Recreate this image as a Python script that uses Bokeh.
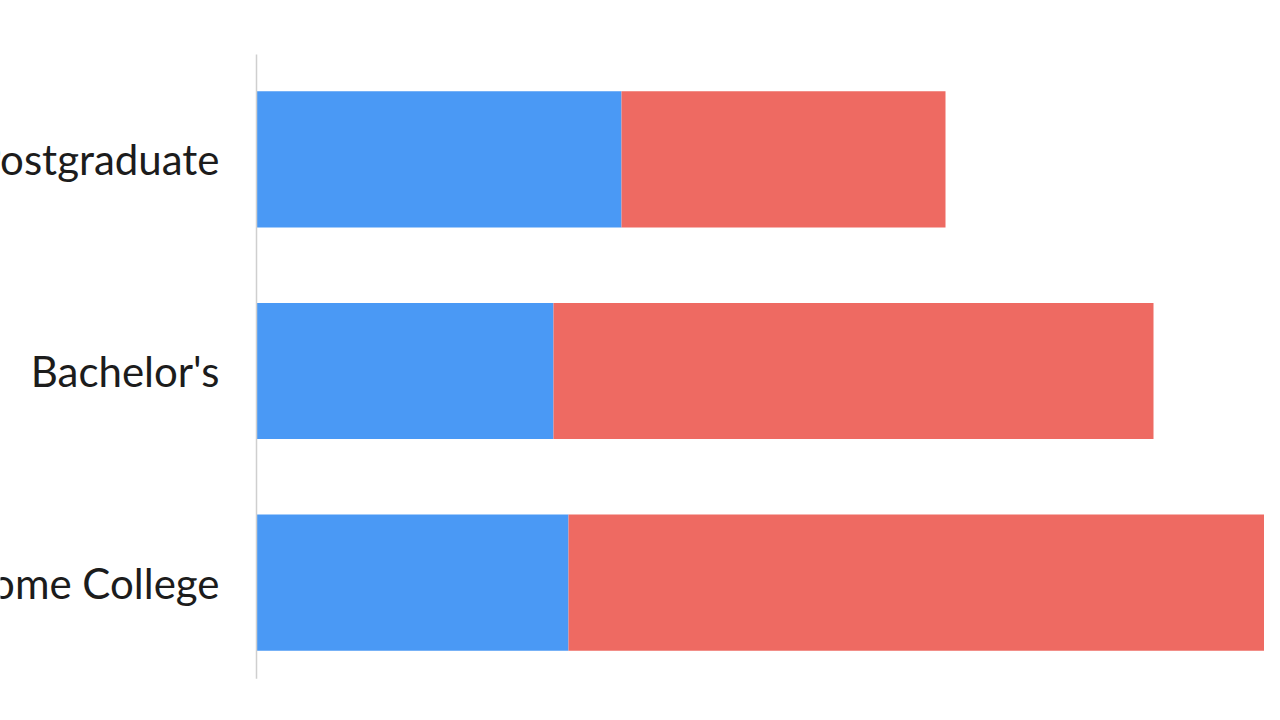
from bokeh.plotting import figure
from bokeh.models import ColumnDataSource, Range1d, FactorRange
from bokeh.core.properties import value
from bokeh.embed import file_html
from bokeh.resources import INLINE

# ---- data ----
categories = ["Some College", "Bachelor's", "Postgraduate"]  # bottom -> top
blue_values = [31.2, 29.7, 36.5]
red_values = [78.0, 60.0, 32.4]

BLUE = "#4A99F5"
RED = "#EE6A62"

left_red = blue_values
right_red = [b + r for b, r in zip(blue_values, red_values)]

src = ColumnDataSource(dict(
    cat=categories,
    blue=blue_values,
    red_left=left_red,
    red_right=right_red,
    label=categories,
))

p = figure(
    width=1264, height=704,
    y_range=FactorRange(*categories, range_padding=0),
    x_range=Range1d(-25.6, 100.8),
    x_axis_location=None, y_axis_location=None,
    toolbar_location=None, output_backend="svg",
    min_border_left=0, min_border_right=0,
    min_border_top=53, min_border_bottom=16,
)
p.outline_line_color = None
p.xgrid.visible = False
p.ygrid.visible = False
p.background_fill_color = "white"
p.border_fill_color = "white"

bar_h = 0.643
p.hbar(y="cat", left=0, right="blue", height=bar_h, source=src,
       fill_color=BLUE, line_color=None)
p.hbar(y="cat", left="red_left", right="red_right", height=bar_h, source=src,
       fill_color=RED, line_color=None)

# vertical axis line
p.segment(x0=[0], x1=[0], y0=[(categories[-1], 0.495)], y1=[(categories[0], -0.454)],
          line_color="#cfcfcf", line_width=1.5)

# category labels
p.text(x=-3.7, y="cat", text="label", source=src,
       text_align="right", text_baseline="middle",
       text_font=value("Lato"), text_font_size="42px", text_color="#1c1c1c")

open("out.html", "w").write(file_html(p, INLINE))
